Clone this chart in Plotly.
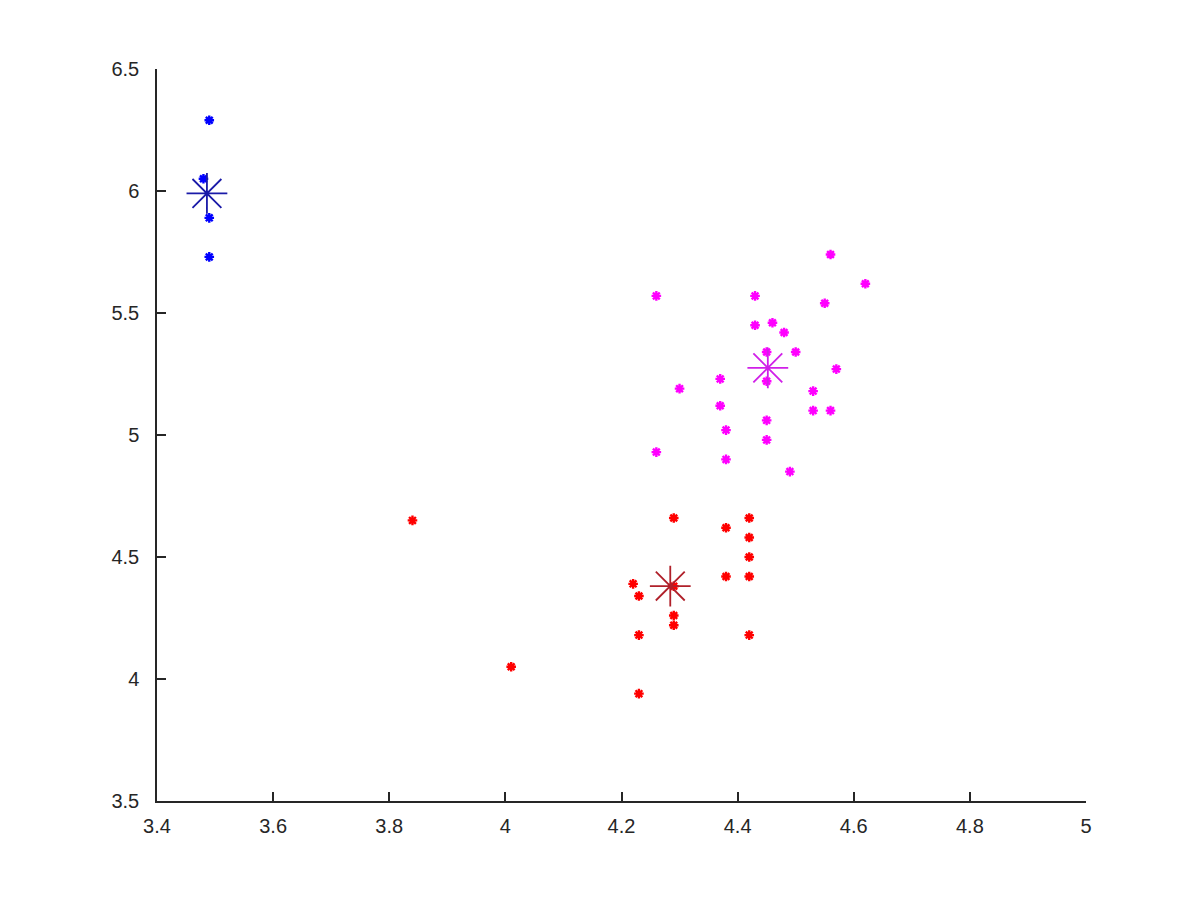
import plotly.graph_objects as go

# Cluster 1 (blue)
blue_x = [3.49, 3.48, 3.49, 3.49]
blue_y = [6.29, 6.05, 5.89, 5.73]
blue_cx = [3.486]
blue_cy = [5.99]

# Cluster 2 (magenta)
mag_x = [4.26, 4.43, 4.62, 4.55, 4.43, 4.46, 4.48, 4.45, 4.50, 4.57, 4.45, 4.37,
         4.30, 4.53, 4.37, 4.53, 4.56, 4.45, 4.38, 4.45, 4.26, 4.38, 4.49, 4.56]
mag_y = [5.57, 5.57, 5.62, 5.54, 5.45, 5.46, 5.42, 5.34, 5.34, 5.27, 5.22, 5.23,
         5.19, 5.18, 5.12, 5.10, 5.10, 5.06, 5.02, 4.98, 4.93, 4.90, 4.85, 5.74]
mag_cx = [4.452]
mag_cy = [5.275]

# Cluster 3 (red)
red_x = [3.84, 4.01, 4.29, 4.38, 4.42, 4.42, 4.42, 4.38, 4.42, 4.22, 4.23, 4.29,
         4.29, 4.29, 4.23, 4.42, 4.23]
red_y = [4.65, 4.05, 4.66, 4.62, 4.66, 4.58, 4.50, 4.42, 4.42, 4.39, 4.34, 4.38,
         4.26, 4.22, 4.18, 4.18, 3.94]
red_cx = [4.284]
red_cy = [4.381]

x_ticks = [3.4, 3.6, 3.8, 4, 4.2, 4.4, 4.6, 4.8, 5]
y_ticks = [3.5, 4, 4.5, 5, 5.5, 6, 6.5]

fig = go.Figure()

def pts(x, y, color):
    fig.add_trace(go.Scatter(x=x, y=y, mode="markers",
                             marker=dict(symbol="asterisk-open", size=8, color=color,
                                         line=dict(color=color, width=2.4)),
                             showlegend=False, hoverinfo="skip"))

def cen(x, y, color):
    fig.add_trace(go.Scatter(x=x, y=y, mode="markers",
                             marker=dict(symbol="asterisk-open", size=34, color=color,
                                         line=dict(color=color, width=1.8)),
                             showlegend=False, hoverinfo="skip"))

pts(blue_x, blue_y, "#0000ff")
pts(mag_x, mag_y, "#ff00ff")
pts(red_x, red_y, "#ff0000")
cen(blue_cx, blue_cy, "#1a1aa8")
cen(mag_cx, mag_cy, "#d020e8")
cen(red_cx, red_cy, "#b0202a")

axis_common = dict(showgrid=False, zeroline=False, showline=True,
                   linecolor="#262626", linewidth=1.5, ticks="inside",
                   ticklen=9, tickwidth=1.5, tickcolor="#262626",
                   tickfont=dict(family="Liberation Sans", size=20, color="#262626"),
                   mirror=False)

fig.update_xaxes(range=[3.4, 5], tickvals=x_ticks,
                 ticktext=[f"{v:g}" for v in x_ticks], ticklabelstandoff=6,
                 **axis_common)
fig.update_yaxes(range=[3.5, 6.5], tickvals=y_ticks,
                 ticktext=[f"{v:g}" for v in y_ticks], ticklabelstandoff=12,
                 **axis_common)

fig.update_layout(width=1200, height=900, plot_bgcolor="white", paper_bgcolor="white",
                  margin=dict(l=149, r=122, t=61, b=107))

fig.write_html("out.html")
